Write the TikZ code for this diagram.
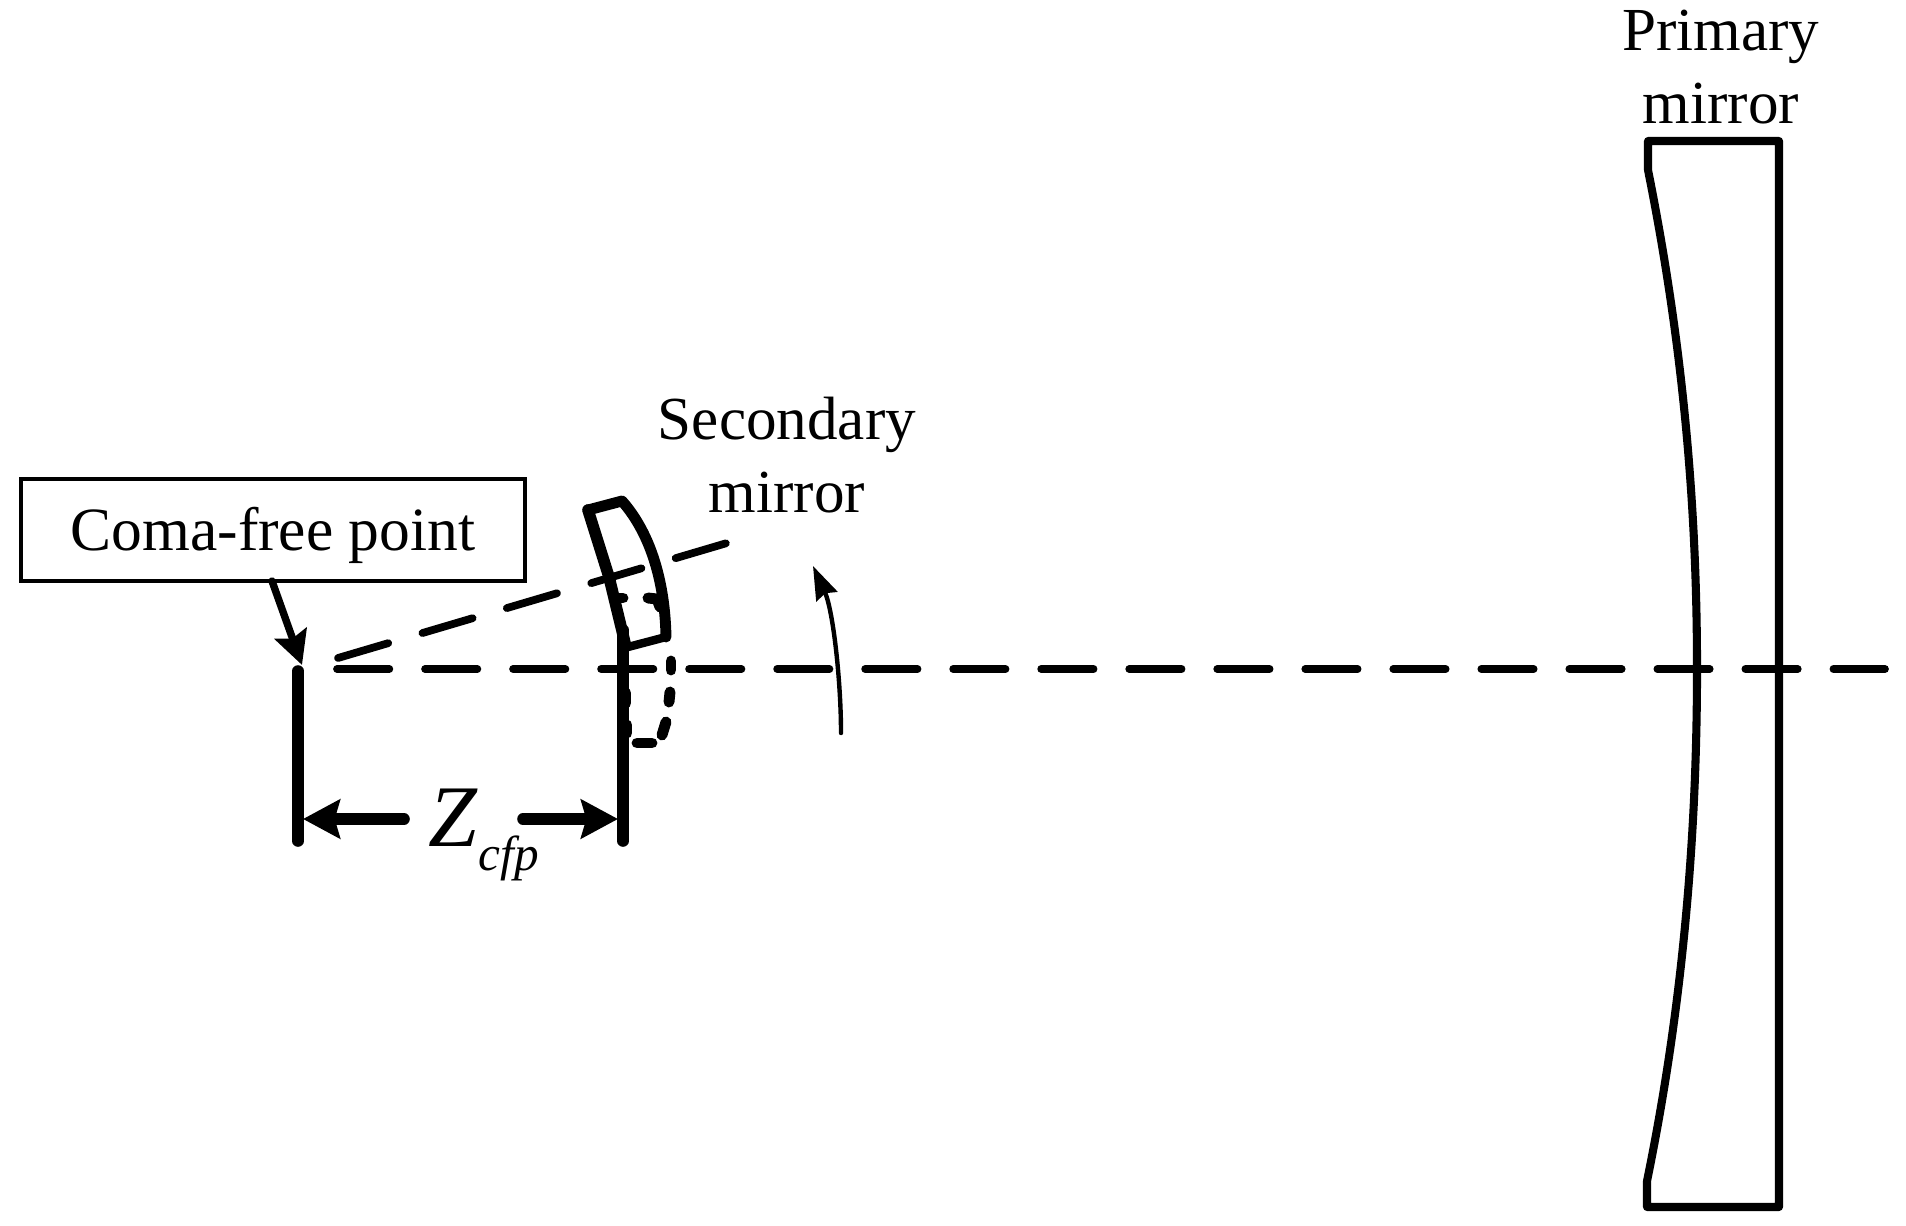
\documentclass[tikz,border=0pt]{standalone}
\usepackage{fontspec}
\setmainfont{Liberation Serif}
\usetikzlibrary{arrows.meta}
\begin{document}
\begin{tikzpicture}[x=0.02cm,y=-0.02cm,
  heavy/.style={line width=6.6pt,line cap=round,line join=round},
  mirrorline/.style={line width=4.6pt,line join=round,line cap=round},
  axisline/.style={line width=4.4pt,line cap=round,dash pattern=on 29.8pt off 20.3pt},
  dotline/.style={line width=6.2pt,line cap=round,line join=round},
  txt/.style={inner sep=0pt,font=\fontsize{34.8pt}{41.4pt}\selectfont,align=center},
  dimarrow/.style={line width=6.6pt,line cap=round,-{Stealth[length=21pt,width=22pt,inset=3pt]}}
]
\useasboundingbox (0,0) rectangle (1906,1226);
\fill[white] (0,0) rectangle (1906,1226);

% labels
\node[txt] (primary) at (1721,67) {Primary\\mirror};
\node[txt] (secondary) at (787,455) {Secondary\\mirror};
\node[draw,line width=2.1pt,minimum width=287pt,minimum height=57.8pt,inner sep=0pt,font=\fontsize{35pt}{41pt}\selectfont,text depth=3pt,text height=26pt] (coma) at (273,530) {Coma-free point};

% coordinates
\coordinate (cfp) at (298,671);
\coordinate (cfpB) at (298,841);
\coordinate (tip) at (302,665);
\coordinate (sv) at (623,630);
\coordinate (svB) at (623,841);
\coordinate (axA) at (337,669);
\coordinate (axB) at (1885,669);
\coordinate (slA) at (338,658);
\coordinate (slB) at (727,543);
\coordinate (dL) at (404,819);
\coordinate (dR) at (523,819);
\coordinate (dLtip) at (303,819);
\coordinate (dRtip) at (618,819);
\coordinate (pt) at (272,581);

% primary mirror
\draw[mirrorline] (1648,170) -- (1648,141) -- (1779,141) -- (1779,1207) -- (1647,1207) -- (1647,1181)
  .. controls (1680,1020) and (1697,850) .. (1697,669)
  .. controls (1697,490) and (1680,330) .. cycle;

% axis lines
\draw[axisline] (axA) -- (axB);
\draw[axisline] (slA) -- (slB);

% verticals
\draw[heavy] (cfp) -- (cfpB);
\draw[heavy] (sv) -- (svB);

% secondary mirror (dotted)
\draw[dotline] (618,598) -- (623,598);
\draw[dotline] (648,598) -- (657,599) -- (660,607);
\draw[dotline] (671,661) -- (671,670);
\draw[dotline] (670,692) -- (669,702);
\draw[dotline] (666,722) -- (662,735);
\draw[dotline] (652,743) -- (637,743);
\draw[dotline] (626,693) -- (626,703);
\draw[dotline] (627,725) -- (627,733);

% secondary mirror (tilted)
\draw[line width=6.2pt,line join=round,line cap=round] (588,510) -- (622,501)
  .. controls (652,535) and (665,585) .. (666,637);
\draw[line width=6.6pt,line join=round,line cap=round] (588,510) -- (609,577) -- (625,643);
\draw[line width=4.8pt,line join=round,line cap=round] (666,637) -- (628,647);

% pointer
\draw[line width=4.2pt,line cap=round,-{Stealth[length=19pt,width=19pt,inset=3pt]}] (pt) -- (tip);

% dimension arrows
\draw[dimarrow] (dL) -- (dLtip);
\draw[dimarrow] (dR) -- (dRtip);
\node[inner sep=0pt,font=\fontsize{50pt}{54pt}\selectfont\itshape] (z) at (453,818) {Z};
\node[inner sep=0pt,font=\fontsize{28pt}{32pt}\selectfont\itshape] (sub) at (509,858) {cfp};

% tilt arrow
\coordinate (tA) at (841,733);
\coordinate (tB) at (813,566);
\draw[line width=2.5pt,line cap=round,-{Stealth[length=19pt,width=13pt,inset=2pt]}] (tA) .. controls (841,680) and (833,610) .. (tB);
\end{tikzpicture}
\end{document}
